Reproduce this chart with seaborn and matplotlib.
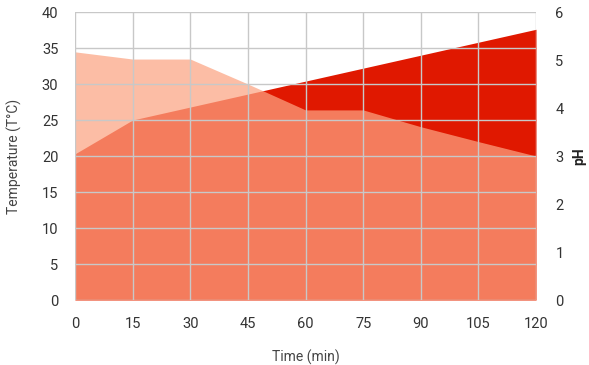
import numpy as np
import matplotlib
matplotlib.use("Agg")
import matplotlib.pyplot as plt
import seaborn as sns

# data
time_min = [0, 15, 30, 45, 60, 75, 90, 105, 120]
temperature = [20.3, 25.0, 26.8, 28.6, 30.4, 32.2, 34.0, 35.8, 37.6]
ph = [5.17, 5.02, 5.02, 4.5, 3.96, 3.96, 3.61, 3.30, 3.0]

temp_ticks = [0, 5, 10, 15, 20, 25, 30, 35, 40]
ph_ticks = [0, 1, 2, 3, 4, 5, 6]

sns.set_style("white")
plt.rcParams['font.family'] = ['Roboto', 'DejaVu Sans']

fig = plt.figure(figsize=(5.89, 3.65), dpi=100)
ax = fig.add_axes([75 / 589, 65 / 365, 461 / 589, 288 / 365])
ax2 = ax.twinx()
ax2.set_zorder(0)
ax.set_zorder(1)
ax.patch.set_visible(False)

# temperature area (left axis)
ax.fill_between(time_min, temperature, 0, color="#e01800", linewidth=0, zorder=1)
# pH area, on the right axis scale, drawn over the temperature area
ax.fill_between(time_min, ph, 0, color="#fca482", alpha=0.72, linewidth=0,
                transform=ax2.transData, zorder=2)

ax.set_xlim(0, 120)
ax.set_ylim(0, 40)
ax2.set_ylim(0, 6)
ax.set_xticks(time_min)
ax.set_yticks(temp_ticks)
ax2.set_yticks(ph_ticks)

ax.grid(True, color="#c8c8c8", linewidth=1, zorder=3)
ax.set_axisbelow(False)
ax2.grid(False)
for a in (ax, ax2):
    for s in a.spines.values():
        s.set_visible(False)

ax.tick_params(axis="both", length=0, labelsize=10.5, labelcolor="#333333")
ax.tick_params(axis="x", pad=12)
ax.tick_params(axis="y", pad=12)
ax2.tick_params(axis="y", length=0, labelsize=10.5, labelcolor="#333333", pad=14)

ax.set_xlabel("Time (min)", fontsize=10, color="#444444", labelpad=14)
ax.set_ylabel("Temperature (T°C)", fontsize=10, color="#444444", labelpad=14)
ax2.set_ylabel("pH", fontsize=10, fontweight="bold", color="#222222", labelpad=6)

fig.savefig("out.png", dpi=100)
